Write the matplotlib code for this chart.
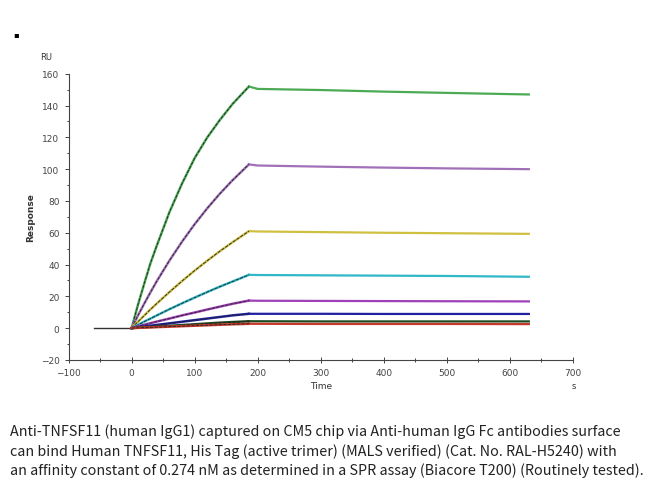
import matplotlib.pyplot as plt
from matplotlib.ticker import MultipleLocator

# sensorgram values (RU)
t_base = [-60, -30, 0]
t_assoc = [0, 10, 20, 30, 40, 60, 80, 100, 120, 140, 160, 186]
t_dissoc = [186, 200, 300, 400, 500, 630]

resp_assoc = [
    [0, 14.6, 28, 41, 52, 73, 91, 107, 120, 131, 141, 152],
    [0, 7.9, 15.4, 22.6, 29.6, 42.5, 54.4, 65.4, 75.4, 84.6, 93, 103],
    [0, 4, 7.9, 11.8, 15.5, 22.7, 29.6, 36.2, 42.4, 48.4, 54, 61],
    [0, 2, 4.1, 6, 8, 11.9, 15.6, 19.2, 22.7, 26.1, 29.3, 33.5],
    [0, 1.1, 2.1, 3.1, 4.1, 6, 8, 9.8, 11.7, 13.5, 15.3, 17.3],
    [0, 0.5, 1, 1.5, 2, 3, 4, 5, 6, 7, 8, 9],
    [0, 0.25, 0.5, 0.7, 0.9, 1.4, 1.9, 2.4, 2.9, 3.4, 3.8, 4.3],
    [0, 0.15, 0.3, 0.45, 0.6, 0.9, 1.2, 1.5, 1.8, 2.1, 2.4, 2.7],
]
resp_dissoc = [
    [152, 150.5, 149.8, 148.8, 148, 147],
    [103, 102.3, 101.6, 101, 100.5, 100],
    [61, 60.8, 60.4, 60, 59.7, 59.3],
    [33.5, 33.4, 33.2, 33, 32.8, 32.3],
    [17.3, 17.2, 17.1, 17, 16.9, 16.8],
    [9, 9, 9, 8.9, 8.9, 8.9],
    [4.3, 4.3, 4.2, 4.2, 4.2, 4.2],
    [2.7, 2.7, 2.6, 2.6, 2.6, 2.5],
]
colors = ["#4caa55", "#a070b8", "#d0c040", "#30b8c8", "#a040b8", "#2020a0", "#1c4a20", "#c83828"]

caption = ("Anti-TNFSF11 (human IgG1) captured on CM5 chip via Anti-human IgG Fc antibodies surface\n"
           "can bind Human TNFSF11, His Tag (active trimer) (MALS verified) (Cat. No. RAL-H5240) with\n"
           "an affinity constant of 0.274 nM as determined in a SPR assay (Biacore T200) (Routinely tested).")

fig = plt.figure(figsize=(6.5, 4.89), dpi=100)
ax = fig.add_axes([0.1055, 0.262, 0.776, 0.585])

ax.plot(t_base, [0] * len(t_base), color="#333333", lw=1)
for i in range(len(colors)):
    ax.plot(t_assoc, resp_assoc[i], color=colors[i], lw=1.8)
    ax.plot(t_dissoc, resp_dissoc[i], color=colors[i], lw=1.6)
    ax.plot(t_assoc, resp_assoc[i], color="#222222", lw=0.6, dashes=(4, 1.5))

ax.set_xlim(-100, 700)
ax.set_ylim(-20, 160)
ax.xaxis.set_major_locator(MultipleLocator(100))
ax.xaxis.set_minor_locator(MultipleLocator(50))
ax.yaxis.set_major_locator(MultipleLocator(20))
ax.yaxis.set_minor_locator(MultipleLocator(10))
for s in ["top", "right"]:
    ax.spines[s].set_visible(False)
for s in ["left", "bottom"]:
    ax.spines[s].set_color("#444444")
    ax.spines[s].set_linewidth(0.8)
ax.tick_params(axis="both", which="both", labelsize=6.5, colors="#444444", width=0.7)
ax.tick_params(axis="x", which="major", direction="inout", length=5)
ax.tick_params(axis="x", which="minor", direction="inout", length=3)
ax.tick_params(axis="y", which="major", direction="out", length=3)
ax.tick_params(axis="y", which="minor", direction="out", length=1.5)

ax.set_xlabel("Time", fontsize=6.5, color="#333333", labelpad=3)
ax.set_ylabel("Response", fontsize=6.5, color="#333333", fontweight="bold", labelpad=4)
fig.text(0.062, 0.878, "RU", fontsize=6, color="#333333")
fig.text(0.88, 0.205, "s", fontsize=6, color="#333333")
fig.text(0.02, 0.925, "\u25aa", fontsize=6, color="black")

fig.text(0.015, 0.022, caption, fontsize=10.3, color="#222222", linespacing=1.42,
         family=["Noto Sans CJK SC", "DejaVu Sans"], va="bottom")

fig.savefig("out.png", dpi=100)
